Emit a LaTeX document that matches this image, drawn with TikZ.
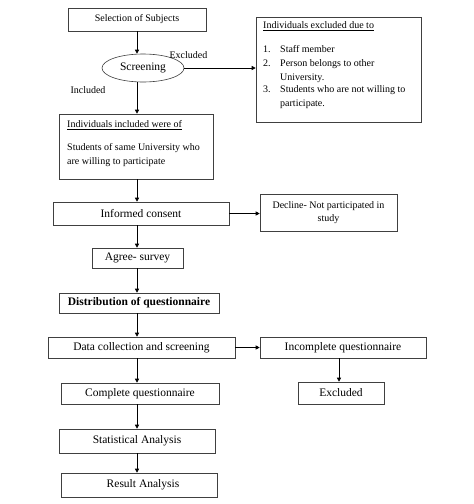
\documentclass[tikz,border=0pt]{standalone}
\usepackage{fontspec}
\setmainfont{Liberation Serif}
\usetikzlibrary{arrows.meta,shapes.geometric}
\begin{document}
\begin{tikzpicture}[x=1pt,y=-1pt,
  box/.style={draw=black!75, line width=0.6pt, inner sep=0pt, font=\fontsize{11.5}{13}\selectfont},
  smallbox/.style={box, font=\fontsize{10}{12}\selectfont},
  arr/.style={draw=black, line width=0.6pt, -{Triangle[length=4pt,width=4pt]}},
  txt/.style={inner sep=0pt, anchor=base west, font=\fontsize{10}{12}\selectfont},
  lbl/.style={inner sep=0pt, font=\fontsize{10}{12}\selectfont}]
\useasboundingbox[fill=white] (0,0) rectangle (474,504);
\coordinate (spine) at (137,0);
\coordinate (exsp) at (339,0);
% nodes
\node[smallbox, minimum width=138, minimum height=23] (sel) at (137,19.5) {Selection of Subjects};
\node[box, ellipse, minimum width=82, minimum height=28] (scr) at (143,68) {Screening};
\node[smallbox, minimum width=165, minimum height=105] (excl) at (338.5,69.5) {};
\node[txt] (exh) at (263,28.3) {\underline{Individuals excluded due to}};
\node[txt] (ex1n) at (263,52.3) {1.};
\node[txt] (ex1) at (280,52.3) {Staff member};
\node[txt] (ex2n) at (263,66) {2.};
\node[txt] (ex2) at (280,66) {Person belongs to other};
\node[txt] (ex2b) at (280,80) {University.};
\node[txt] (ex3n) at (263,92.3) {3.};
\node[txt] (ex3) at (280,92.3) {Students who are not willing to};
\node[txt] (ex3b) at (280,106.3) {participate.};
\node[lbl] (lexc) at (188.5,55) {Excluded};
\node[lbl] (linc) at (88,90) {Included};
\node[smallbox, minimum width=154, minimum height=65] (incl) at (136,146.5) {};
\node[txt] (inh) at (67,127.3) {\underline{Individuals included were of}};
\node[txt] (in1) at (67,150.3) {Students of same University who};
\node[txt] (in2) at (67,164.3) {are willing to participate};
\node[box, minimum width=176, minimum height=23] (inf) at (141,213.5) {Informed consent};
\node[smallbox, minimum width=137, minimum height=37, align=center] (dec) at (328.5,212.5) {Decline- Not participated in\\[1pt]study};
\node[box, minimum width=91, minimum height=20] (agr) at (137.5,258) {Agree- survey};
\node[box, minimum width=160, minimum height=20, font=\fontsize{11.5}{13}\selectfont\bfseries] (dist) at (139,303) {Distribution of questionnaire};
\node[box, minimum width=187, minimum height=21] (data) at (141.5,347.5) {Data collection and screening};
\node[box, minimum width=166, minimum height=21] (inc) at (343,347.5) {Incomplete questionnaire};
\node[box, minimum width=86, minimum height=22] (exc2) at (341,393) {Excluded};
\node[box, minimum width=158, minimum height=21] (comp) at (140,393.5) {Complete questionnaire};
\node[box, minimum width=156, minimum height=24] (stat) at (137,441) {Statistical Analysis};
\node[box, minimum width=156, minimum height=24] (res) at (139,485) {\hspace*{8pt}Result Analysis};
% connectors
\draw[arr] (sel.south -| spine) -- (scr.north -| spine);
\draw[arr] (scr.south -| spine) -- (incl.north -| spine);
\draw[arr] (scr.east) -- (excl.west |- scr.east);
\draw[arr] (incl.south -| spine) -- (inf.north -| spine);
\draw[arr] (inf.east) -- (dec.west |- inf.east);
\draw[arr] (inf.south -| spine) -- (agr.north -| spine);
\draw[arr] (agr.south -| spine) -- (dist.north -| spine);
\draw[arr] (dist.south -| spine) -- (data.north -| spine);
\draw[arr] (data.east) -- (inc.west |- data.east);
\draw[arr] (data.south -| spine) -- (comp.north -| spine);
\draw[arr] (comp.south -| spine) -- (stat.north -| spine);
\draw[arr] (stat.south -| spine) -- (res.north -| spine);
\draw[arr] (inc.south -| exsp) -- (exc2.north -| exsp);
\end{tikzpicture}
\end{document}
